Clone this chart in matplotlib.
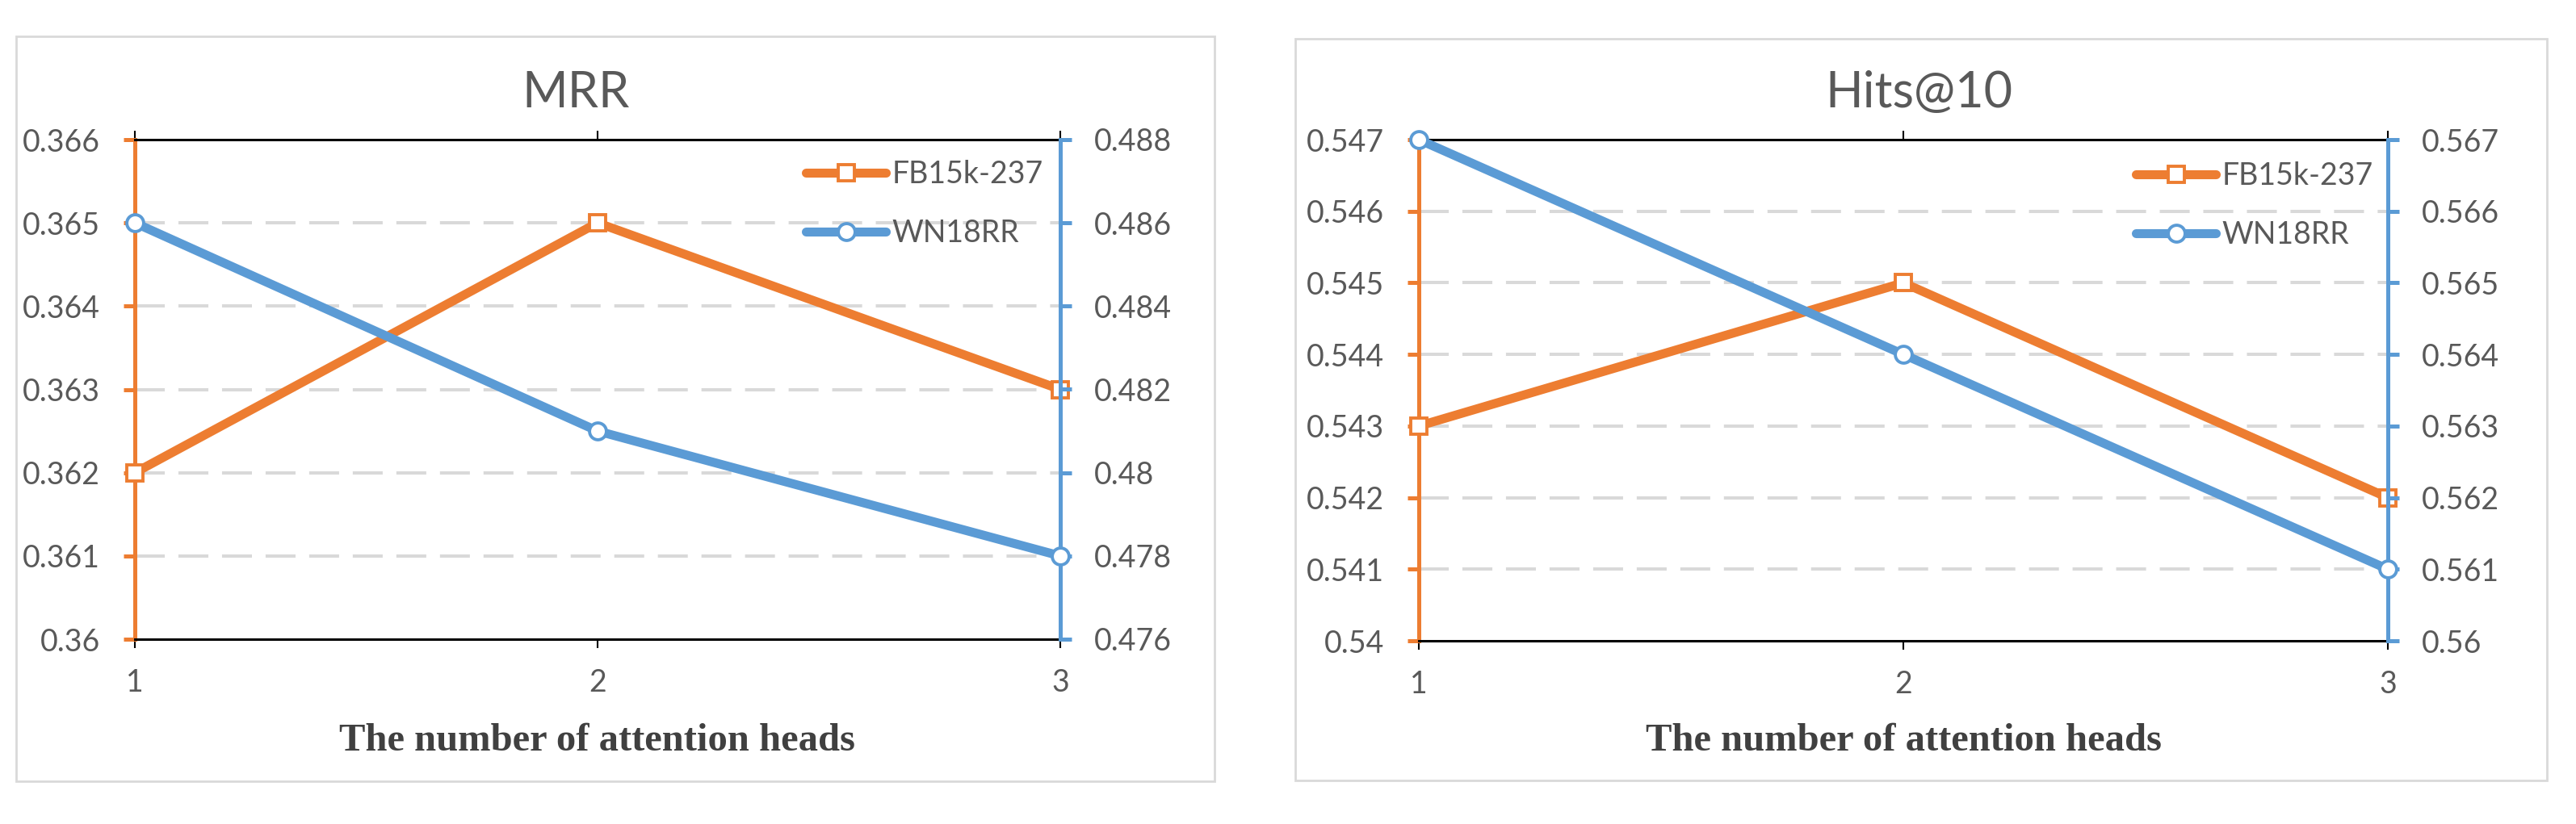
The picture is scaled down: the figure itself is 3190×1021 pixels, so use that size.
import matplotlib
matplotlib.use("Agg")
import matplotlib.pyplot as plt
from matplotlib.patches import Rectangle
from matplotlib.ticker import FixedLocator, FuncFormatter

# ---------------- data ----------------
heads = [1, 2, 3]
series_names = ["FB15k-237", "WN18RR"]

mrr_fb = [0.362, 0.365, 0.363]
mrr_wn = [0.486, 0.481, 0.478]
mrr_left_ticks = [0.360, 0.361, 0.362, 0.363, 0.364, 0.365, 0.366]
mrr_right_ticks = [0.476, 0.478, 0.480, 0.482, 0.484, 0.486, 0.488]

hits_fb = [0.543, 0.545, 0.542]
hits_wn = [0.567, 0.564, 0.561]
hits_left_ticks = [0.540, 0.541, 0.542, 0.543, 0.544, 0.545, 0.546, 0.547]
hits_right_ticks = [0.560, 0.561, 0.562, 0.563, 0.564, 0.565, 0.566, 0.567]

titles = ["MRR", "Hits@10"]
xlabel = "The number of attention heads"

# ---------------- style ----------------
W, H = 3190, 1021
DPI = 100
ORANGE = "#ED7D31"
BLUE = "#5B9BD5"
GRAY_TXT = "#595959"
GRID = "#D9D9D9"
FONT = "Lato"

plt.rcParams["font.family"] = [FONT, "DejaVu Sans"]

fig = plt.figure(figsize=(W / DPI, H / DPI), dpi=DPI)


def fx(px):
    return px / W


def fy(py):
    return 1 - py / H


def fmt(v, pos=None):
    s = f"{v:.3f}".rstrip("0")
    return s


def panel(frame, axbox, title, title_x, fb, wn, lticks, rticks, legend_xy):
    # outer frame
    fx0, fy0, fx1, fy1 = frame
    fig.patches.append(Rectangle((fx(fx0), fy(fy1)), fx(fx1 - fx0), (fy1 - fy0) / H,
                                 transform=fig.transFigure, fill=False,
                                 edgecolor=GRID, linewidth=2.0, zorder=0))
    ax0, ay0, ax1, ay1 = axbox
    ax = fig.add_axes([fx(ax0), fy(ay1), fx(ax1 - ax0), (ay1 - ay0) / H])
    ax2 = ax.twinx()

    ax.set_xlim(heads[0], heads[-1])
    ax.set_ylim(lticks[0], lticks[-1])
    ax2.set_ylim(rticks[0], rticks[-1])
    ax.set_xticks(heads)
    ax.set_xticklabels([str(h) for h in heads])

    ax.yaxis.set_major_locator(FixedLocator(lticks))
    ax.yaxis.set_major_formatter(FuncFormatter(fmt))
    ax2.yaxis.set_major_locator(FixedLocator(rticks))
    ax2.yaxis.set_major_formatter(FuncFormatter(fmt))

    # gridlines (dashed, light gray)
    ax.yaxis.grid(True, color=GRID, linewidth=2.9, linestyle=(0, (9.2, 4.2)))
    ax.set_axisbelow(True)
    for gl, t in zip(ax.yaxis.get_gridlines(), lticks):
        if t in (lticks[0], lticks[-1]):
            gl.set_visible(False)

    # spines
    ax.spines["left"].set_color(ORANGE)
    ax.spines["left"].set_linewidth(3.6)
    ax.spines["right"].set_visible(False)
    ax.spines["top"].set_color("black")
    ax.spines["top"].set_linewidth(2.2)
    ax.spines["bottom"].set_color("black")
    ax.spines["bottom"].set_linewidth(2.2)
    ax2.spines["right"].set_color(BLUE)
    ax2.spines["right"].set_linewidth(3.6)
    for s in ("left", "top", "bottom"):
        ax2.spines[s].set_visible(False)

    ax.tick_params(axis="y", colors=ORANGE, length=10, width=3.6, pad=21,
                   labelcolor=GRAY_TXT, labelsize=27)
    ax2.tick_params(axis="y", colors=BLUE, length=10, width=3.6, pad=20,
                    labelcolor=GRAY_TXT, labelsize=27)
    ax.tick_params(axis="x", top=True, bottom=True, direction="out", length=8,
                   width=1.5, colors="black", labelcolor=GRAY_TXT, labelsize=27, pad=18)

    l1, = ax.plot(heads, fb, color=ORANGE, linewidth=8, marker="s", markersize=15,
                  markerfacecolor="white", markeredgecolor=ORANGE, markeredgewidth=2.8,
                  solid_capstyle="round", solid_joinstyle="round", clip_on=False, zorder=3,
                  label=series_names[0])
    l2, = ax2.plot(heads, wn, color=BLUE, linewidth=8, marker="o", markersize=15,
                   markerfacecolor="white", markeredgecolor=BLUE, markeredgewidth=2.8,
                   solid_capstyle="round", solid_joinstyle="round", clip_on=False, zorder=3,
                   label=series_names[1])

    leg = ax2.legend(handles=[l1, l2], loc="upper left",
                     bbox_to_anchor=(fx(legend_xy[0]), fy(legend_xy[1])),
                     bbox_transform=fig.transFigure, frameon=False, fontsize=27,
                     handlelength=2.65, handletextpad=0.2, labelspacing=1.0,
                     borderpad=0, borderaxespad=0)
    for t in leg.get_texts():
        t.set_color(GRAY_TXT)

    fig.text(fx(title_x), fy(133), title, ha="center", va="baseline",
             fontsize=44, color=GRAY_TXT)
    fig.text(fx((ax0 + ax1) / 2), fy(930), xlabel, ha="center", va="baseline",
             fontsize=35, fontweight="bold", color="#404040",
             family=["Liberation Serif", "DejaVu Serif"])
    return ax, ax2


panel((20, 45, 1504, 968), (167, 173, 1313, 792), titles[0], 713,
      mrr_fb, mrr_wn, mrr_left_ticks, mrr_right_ticks, (998, 198))
panel((1604, 48, 3154, 967), (1757, 173, 2957, 794), titles[1], 2376,
      hits_fb, hits_wn, hits_left_ticks, hits_right_ticks, (2645, 200))

fig.savefig("out.png", dpi=DPI)
